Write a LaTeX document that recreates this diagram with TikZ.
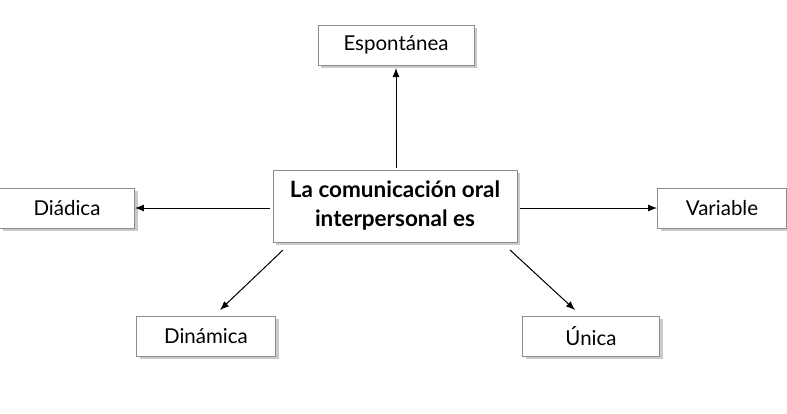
\documentclass[tikz,border=0pt]{standalone}
\usepackage{fontspec}
\setmainfont{Lato}
\usetikzlibrary{arrows.meta,shadows}
\begin{document}
\begin{tikzpicture}[x=1pt,y=-1pt,
  box/.style={draw=black!45,line width=0.8pt,fill=white,minimum height=40pt,font=\fontsize{20.5}{22}\selectfont,inner sep=0pt,
    drop shadow={shadow xshift=3pt,shadow yshift=-3pt,opacity=0.35,fill=black!60}},
  arr/.style={-{Latex[length=9pt,width=7pt]},line width=1pt}]
\useasboundingbox (0,0) rectangle (787,413);
\node[box,minimum width=156pt] (esp) at (396,45) {Espontánea};
\node[box,minimum width=244pt,minimum height=72pt,align=center,font=\bfseries\fontsize{22.5}{29}\selectfont] (c) at (395,206) {La comunicación oral\\interpersonal es};
\node[box,minimum width=135pt] (dia) at (67,208) {Diádica};
\node[box,minimum width=129pt] (var) at (722,208) {Variable};
\node[box,minimum width=139pt] (din) at (206,336) {Dinámica};
\node[box,minimum width=137pt] (uni) at (591,336) {Única};
\coordinate (ct) at (396,168); \coordinate (cl) at (270,208); \coordinate (cr) at (520,208);
\coordinate (cbl) at (283,250); \coordinate (cbr) at (510,250);
\draw[arr] (ct) -- (396,68);
\draw[arr] (cl) -- (dia.east);
\draw[arr] (cr) -- (var.west);
\draw[arr] (cbl) -- (220,310);
\draw[arr] (cbr) -- (575,310);
\end{tikzpicture}
\end{document}
